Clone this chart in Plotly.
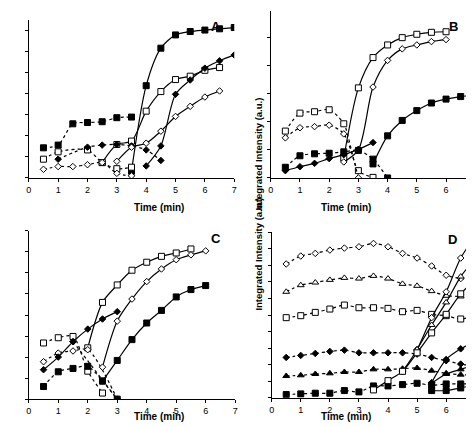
import plotly.graph_objects as go

# ---------- Panel A ----------
A_FSd_x=[0.5,1,1.5,2,2.5,3,3.5]; A_FSd=[1.43,1.56,2.57,2.63,2.67,2.86,2.89]
A_FSs_x=[3.5,4,4.5,5,5.5,6,6.5,7]; A_FSs=[0.32,4.38,6.16,6.79,6.95,7.02,7.08,7.14]
A_OSd_x=[0.5,1,2,2.5,3,3.5]; A_OSd=[0.89,1.24,1.33,0.73,0.44,0.51]
A_OSs_x=[2.5,3,3.5,4,4.5,5,5.5,6,6.5]; A_OSs=[0.73,1.59,1.75,3.17,4.10,4.67,4.83,5.11,5.24]
A_FDd_x=[1,2,2.5,3,3.5,4,4.5]; A_FDd=[0.89,1.46,1.56,1.59,1.52,1.33,0.83]
A_FDs_x=[4,4.5,5,5.5,6,6.5,7]; A_FDs=[0.57,1.52,3.97,4.65,5.21,5.56,5.84]
A_ODd_x=[0.5,1,1.5,2,2.5,3,3.5]; A_ODd=[0.41,0.54,0.54,0.63,0.73,0.22,0.10]
A_ODs_x=[3,3.5,4,4.5,5,5.5,6,6.5]; A_ODs=[0.79,1.46,1.65,2.22,2.92,3.40,3.84,4.13]
# ---------- Panel B ----------
B_OSd_x=[0.5,1,1.5,2,2.5,3,3.5]; B_OSd=[1.67,2.31,2.36,2.43,1.93,0.26,0.02]
B_OSs_x=[2.5,3,3.5,4,4.5,5,5.5,6]; B_OSs=[0.71,3.21,4.29,4.74,5.0,5.12,5.19,5.21]
B_ODd_x=[0.5,1,1.5,2,2.5,3]; B_ODd=[1.43,1.79,1.83,1.88,1.57,0]
B_ODs_x=[2.5,3,3.5,4,4.5,5,5.5,6]; B_ODs=[0.57,1.0,3.24,4.19,4.6,4.74,4.86,4.93]
B_FSd_x=[0.5,1,1.5,2,2.5,3,3.5,4]; B_FSd=[0.38,0.79,0.86,0.88,0.93,0.98,0.67,0]
B_FSs_x=[3.5,4,4.5,5,5.5,6,6.5,7]; B_FSs=[0.5,1.5,2.05,2.4,2.67,2.81,2.9,2.95]
B_FDs_x=[0.5,1,1.5,2,2.5,3,3.5]; B_FDs=[0.26,0.4,0.52,0.69,0.83,1.02,1.26]
# ---------- Panel C ----------
C_OSd_x=[0.5,1,1.5,2,2.5]; C_OSd=[2.67,2.92,2.98,1.33,0.29]
C_OSs_x=[2,2.5,3,3.5,4,4.5,5,5.5]; C_OSs=[2.44,4.6,5.43,6.13,6.51,6.79,6.95,7.14]
C_ODd_x=[0.5,1,1.5,2,3]; C_ODd=[1.78,2.19,2.29,2.35,0]
C_ODs_x=[2.5,3,3.5,4,4.5,5,5.5,6]; C_ODs=[1.52,3.71,4.76,5.59,6.19,6.63,6.86,7.05]
C_FDs_x=[0.5,1,1.5,2,2.5,3]; C_FDs=[1.40,2.0,2.73,3.33,3.81,4.16]
C_FDd_x=[1.5,3]; C_FDd=[2.73,0]
C_FSd_x=[0.5,1,1.5,2,2.5,3]; C_FSd=[0.60,1.30,1.46,1.56,0.86,0]
C_FSs_x=[2.5,3,3.5,4,4.5,5,5.5,6]; C_FSs=[0.86,1.84,2.83,3.62,4.22,4.86,5.21,5.40]
# ---------- Panel D ----------
D_x=[0.5,1,1.5,2,2.5,3,3.5,4,4.5,5,5.5,6,6.5,7]
D_ODd=[8.08,8.56,8.72,8.92,9.04,9.12,9.32,9.12,8.72,8.44,7.96,7.40,7.20,7.04]
D_OTd=[6.40,6.80,6.96,7.12,7.24,7.20,7.36,7.20,6.88,6.76,6.44,6.16,6.12,6.0]
D_OSd=[4.84,4.96,5.16,5.36,5.60,5.44,5.44,5.40,5.20,5.28,5.04,4.96,4.76,5.0]
D_FDd=[2.44,2.56,2.68,2.80,2.88,2.72,2.72,2.72,2.72,2.64,2.44,2.24,2.04,1.92]
D_FTd=[1.32,1.36,1.44,1.48,1.56,1.56,1.72,1.72,1.76,1.80,1.64,1.48,1.40,1.36]
D_FSd=[0.20,0.24,0.28,0.28,0.44,0.36,0.72,0.72,0.80,0.88,0.76,0.84,0.84,0.84]
D_ODs_x=[4.5,5,5.5,6,6.5,7]; D_ODs=[1.60,2.92,4.84,6.40,8.44,9.76]
D_OTs_x=[5,5.5,6,6.5,7]; D_OTs=[2.92,4.40,5.76,7.32,8.40]
D_OSs_x=[3.5,4,4.5,5,5.5,6,6.5,7]; D_OSs=[0.48,1.04,1.60,2.72,3.92,5.04,6.28,7.12]
D_Fs_x=[5.5,6,6.5,7]
D_FDs=[0.92,2.32,2.96,3.40]
D_FTs=[0.88,1.44,1.72,2.0]
D_FSs=[0.44,0.44,0.6,0.8]

SYM={'S':'square','D':'diamond','T':'triangle-up'}
SIZE={'S':6,'D':5,'T':6}
fig=go.Figure()
def add(p,x,y,kind,dotted):
    fig.add_trace(go.Scatter(x=x,y=y,mode='lines+markers',xaxis='x' if p==1 else f'x{p}',yaxis='y' if p==1 else f'y{p}',
        line=dict(color='black',width=1.2,dash='dot' if dotted else 'solid',shape='spline',smoothing=0.8),
        marker=dict(symbol=SYM[kind[1]],size=SIZE[kind[1]],color='white' if kind[0]=='O' else 'black',
                    line=dict(color='black',width=1)),showlegend=False))
for x,y,k,d in [(A_FSd_x,A_FSd,'FS',1),(A_FSs_x,A_FSs,'FS',0),(A_OSd_x,A_OSd,'OS',1),(A_OSs_x,A_OSs,'OS',0),
                (A_FDd_x,A_FDd,'FD',1),(A_FDs_x,A_FDs,'FD',0),(A_ODd_x,A_ODd,'OD',1),(A_ODs_x,A_ODs,'OD',0)]:
    add(1,x,y,k,d)
for x,y,k,d in [(B_OSd_x,B_OSd,'OS',1),(B_OSs_x,B_OSs,'OS',0),(B_ODd_x,B_ODd,'OD',1),(B_ODs_x,B_ODs,'OD',0),
                (B_FSd_x,B_FSd,'FS',1),(B_FSs_x,B_FSs,'FS',0),(B_FDs_x,B_FDs,'FD',0)]:
    add(2,x,y,k,d)
for x,y,k,d in [(C_OSd_x,C_OSd,'OS',1),(C_OSs_x,C_OSs,'OS',0),(C_ODd_x,C_ODd,'OD',1),(C_ODs_x,C_ODs,'OD',0),
                (C_FDd_x,C_FDd,'FD',1),(C_FDs_x,C_FDs,'FD',0),(C_FSd_x,C_FSd,'FS',1),(C_FSs_x,C_FSs,'FS',0)]:
    add(3,x,y,k,d)
for y,k in [(D_ODd,'OD'),(D_OTd,'OT'),(D_OSd,'OS'),(D_FDd,'FD'),(D_FTd,'FT'),(D_FSd,'FS')]:
    add(4,D_x,y,k,1)
for x,y,k in [(D_ODs_x,D_ODs,'OD'),(D_OTs_x,D_OTs,'OT'),(D_OSs_x,D_OSs,'OS'),(D_Fs_x,D_FDs,'FD'),(D_Fs_x,D_FTs,'FT'),(D_Fs_x,D_FSs,'FS')]:
    add(4,x,y,k,0)

dom={1:([0.038,0.477],[0.602,0.972],7.5),2:([0.555,0.992],[0.602,0.993],5.95),
     3:([0.038,0.479],[0.084,0.478],8),4:([0.557,0.992],[0.087,0.475],10)}
ax=dict(showgrid=False,zeroline=False,showline=True,linecolor='black',linewidth=1,ticks='outside',ticklen=3,tickcolor='black')
lay={}
for p,(xd,yd,ym) in dom.items():
    s='' if p==1 else str(p)
    lay['xaxis'+s]=dict(ax,domain=xd,range=[0,7],dtick=1,anchor='y'+s,tickfont=dict(size=9,family='Arial',color='black'))
    lay['yaxis'+s]=dict(ax,domain=yd,range=[0,ym],dtick=1,anchor='x'+s,showticklabels=False)
fig.update_layout(**lay,width=474,height=427,margin=dict(l=0,r=0,t=0,b=0),plot_bgcolor='white',paper_bgcolor='white',
                  font=dict(family='Arial',color='black'))
ann=[]
for xc,yc in [(0.258,199),(0.773,199),(0.258,416),(0.773,416)]:
    ann.append(dict(x=xc,y=1-yc/427,xref='paper',yref='paper',text='<b>Time (min)</b>',showarrow=False,font=dict(size=10)))
for xc,yc in [(0.528,88),(0.528,305)]:
    ann.append(dict(x=xc,y=1-yc/427,xref='paper',yref='paper',text='<b>Integrated Intensity (a.u.)</b>',textangle=-90,showarrow=False,font=dict(size=9.5)))
for xc,yc,t in [(0.437,9,'A'),(0.960,9,'B'),(0.437,230,'C'),(0.958,231,'D')]:
    ann.append(dict(x=xc,y=1-yc/427,xref='paper',yref='paper',text='<b>'+t+'</b>',showarrow=False,font=dict(size=13)))
fig.update_layout(annotations=ann)
fig.write_html("out.html")
